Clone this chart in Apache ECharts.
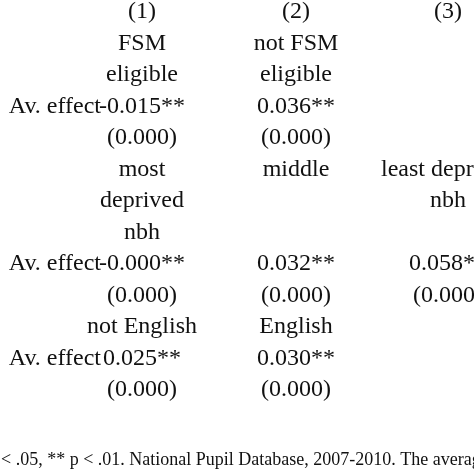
<!DOCTYPE html>
<html><head><meta charset="utf-8">
<script src="https://cdn.jsdelivr.net/npm/echarts@6/dist/echarts.min.js"></script>
<style>html,body{margin:0;padding:0;background:#fff}#c{width:474px;height:474px}</style>
</head><body><div id="c"></div>
<script>
const columns = ["(1)", "(2)", "(3)"];
const groups = [
  {header: [["FSM","eligible"], ["not FSM","eligible"], []], coef: ["-0.015**","0.036**",null], se: ["(0.000)","(0.000)",null]},
  {header: [["most","deprived","nbh"], ["middle"], ["least deprived","nbh"]], coef: ["-0.000**","0.032**","0.058**"], se: ["(0.000)","(0.000)","(0.000)"]},
  {header: [["not English"], ["English"], []], coef: ["0.025**","0.030**",null], se: ["(0.000)","(0.000)",null]}
];
const rowLabel = "Av. effect";
const footnote = "* p < .05, ** p < .01. National Pupil Database, 2007-2010. The average";

const colX = [142, 296, 448];
const lh = 31.5;
const fam = 'Liberation Serif';
const els = [];
function t(x, y, s, align, size) {
  els.push({type:'text', x:x, y:y, style:{text:s, fontFamily:fam, fontSize:size||24, fill:'#111', align:align||'center', verticalAlign:'middle'}});
}
let y = 12;
columns.forEach((c,i)=>t(colX[i], y, c));
y += lh;
groups.forEach(g=>{
  const n = Math.max(...g.header.map(h=>h.length));
  for (let k=0;k<n;k++){ g.header.forEach((h,i)=>{ if(h[k]) t(colX[i], y, h[k]); }); y += lh; }
  t(101, y, rowLabel, 'right');
  g.coef.forEach((v,i)=>{ if(v) t(colX[i], y, v); });
  y += lh;
  g.se.forEach((v,i)=>{ if(v) t(colX[i], y, v); });
  y += lh;
});
t(-26, 460, footnote, 'left', 18);

const chart = echarts.init(document.getElementById('c'));
chart.setOption({backgroundColor:'#fff', graphic: els});
</script></body></html>
